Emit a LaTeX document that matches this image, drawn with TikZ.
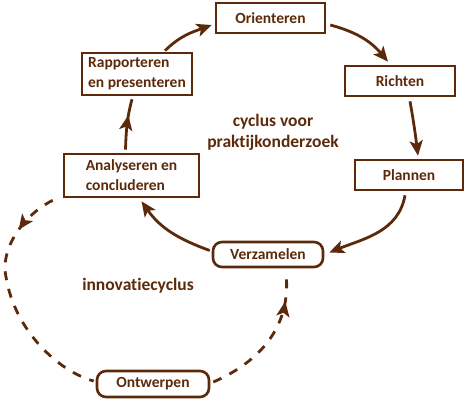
\documentclass[tikz,border=0pt]{standalone}
\usepackage{fontspec}
\setmainfont{Carlito}[Ligatures=NoCommon]
\usetikzlibrary{arrows.meta,decorations.markings,calc}
\definecolor{brn}{RGB}{92,42,10}
\begin{document}
\begin{tikzpicture}[x=1pt,y=1pt,
  box/.style={draw=brn, line width=2.6pt, text=brn, font=\bfseries\fontsize{15.5}{20}\selectfont, inner sep=0pt, align=left},
  rbox/.style={box, rounded corners=9pt},
  lbl/.style={text=brn, font=\bfseries\fontsize{17.5}{21}\selectfont, align=center},
  tip/.tip={Stealth[length=15pt,width=13pt,inset=3.5pt]},
  conn/.style={draw=brn, line width=2.8pt},
  arr/.style={conn, -tip},
  dashline/.style={conn, dash pattern=on 9pt off 9pt},
  midarrow/.style={postaction={decorate}, decoration={markings, mark=at position #1 with {\arrow{tip}}}}
]
\useasboundingbox (0,0) rectangle (470,402);
\node[box, minimum width=109pt, minimum height=30pt] (o) at (270.5,384) {Orienteren};
\node[box, minimum width=110pt, minimum height=30pt] (r) at (400,321) {Richten};
\node[box, minimum width=108pt, minimum height=30pt] (p) at (409,227) {Plannen};
\node[rbox, minimum width=110pt, minimum height=25pt] (v) at (268,147.5) {Verzamelen};
\node[box, minimum width=135pt, minimum height=43pt] (a) at (131.5,226.5) {Analyseren en\\concluderen};
\node[box, minimum width=110pt, minimum height=42pt] (rp) at (137,328) {Rapporteren\\en presenteren};
\node[rbox, minimum width=112pt, minimum height=26pt] (w) at (153,18) {Ontwerpen};
\node[lbl] (t1) at (273,270) {cyclus voor\\praktijkonderzoek};
\node[lbl] (t2) at (138,116) {innovatiecyclus};

\draw[arr] ($(o.east)+(4,-7)$) to[out=-15,in=130] ($(r.north)+(-12,3)$);
\draw[arr] ($(r.south)+(10,-4)$) to[out=-80,in=97] ($(p.north)+(9,3)$);
\draw[arr] ($(p.south)+(-4,-4)$) to[out=-100,in=22] ($(v.east)+(5,2)$);
\draw[arr] ($(v.west)+(-2,4)$) to[out=160,in=-55] ($(a.south)+(10,-3)$);
\draw[conn, midarrow=0.68] ($(a.north)+(-6,3)$) to[out=88,in=-105] ($(rp.south)+(-5,-3)$);
\draw[arr] ($(rp.north)+(28,1)$) to[out=45,in=200] ($(o.west)+(-3,-7)$);

\draw[dashline, midarrow=0.19] ($(a.south west)+(-10,-2)$) .. controls (20,185) and (0,150) .. (6,125)
   .. controls (15,70) and (60,30) .. ($(w.west)+(-2,3)$);
\draw[dashline, midarrow=0.8] ($(w.east)+(3,2)$) .. controls (255,38) and (292,72) .. ($(v.south)+(18,-5)$);
\end{tikzpicture}
\end{document}
